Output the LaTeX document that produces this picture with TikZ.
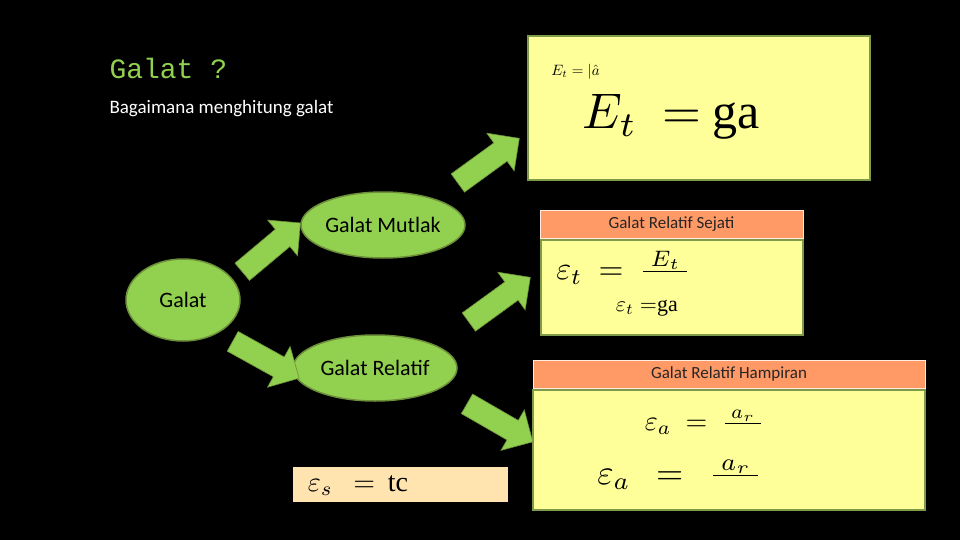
\documentclass[tikz,border=0pt]{standalone}
\usepackage{fontspec}
\setmainfont{Carlito}
\newfontfamily\monof{Liberation Mono}
\newfontfamily\serf{Liberation Serif}
\usetikzlibrary{shapes.arrows,shapes.geometric}
\definecolor{gfill}{HTML}{92D050}
\definecolor{gline}{HTML}{6E8F3A}
\definecolor{ybox}{HTML}{FFFF99}
\definecolor{ybord}{HTML}{7F9A48}
\definecolor{hdr}{HTML}{FF9966}
\definecolor{tfill}{HTML}{FFE4B0}
\begin{document}
\begin{tikzpicture}[x=1pt,y=-1pt,
  ell/.style={ellipse,fill=gfill,draw=gline,line width=1.5pt,font=\fontsize{22}{24}\selectfont,inner sep=0pt},
  garrow/.style={single arrow,fill=gfill,draw=gline,line width=0.6pt,minimum width=46pt,single arrow head extend=12pt,single arrow head indent=0pt,minimum height=76pt,inner xsep=0pt,inner ysep=11pt},
  ybx/.style={fill=ybox,draw=ybord,line width=1.5pt},
  hd/.style={fill=hdr,draw=white!80!hdr,line width=0.8pt,font=\fontsize{17}{19}\selectfont,text=black!85}]
\useasboundingbox[fill=black] (0,0) rectangle (960,540);
\node[anchor=west,text=gfill,font=\monof\fontsize{28}{30}\selectfont] (title) at (106,68) {Galat ?};
\node[anchor=west,text=white,font=\fontsize{19}{21}\selectfont] (sub) at (106,109) {Bagaimana menghitung galat};
\node[ell,minimum width=114pt,minimum height=82pt] (g) at (183,300) {Galat};
\node[ell,minimum width=164pt,minimum height=66pt] (gm) at (383,225) {Galat Mutlak};
\node[ell,minimum width=164pt,minimum height=66pt] (gr) at (375,368) {Galat Relatif};
\node[garrow,rotate=40] (a1) at (267,251) {};
\node[garrow,rotate=-29] (a2) at (261,357) {};
\node[garrow,rotate=36] (a3) at (484,164) {};
\node[garrow,rotate=36] (a4) at (495,303) {};
\node[garrow,rotate=-30] (a5) at (495,420) {};
% top box
\draw[ybx] (528,36) rectangle (870,180);
\begin{scope}
\clip (528,36) rectangle (870,180);
\node[anchor=west,scale=1.5] (e1) at (546,72) {$E_t=|\hat a$};
\node[anchor=west,scale=5] (e2) at (565,117) {$E_t\ =\ $\serf ga};
\node[anchor=west,scale=5] (e3) at (585,205) {$\hat{\ }\qquad\quad$\serf i1};
\end{scope}
% sejati
\node[hd,minimum width=263pt,minimum height=28pt,inner sep=0pt] (h1) at (671.5,224) {Galat Relatif Sejati};
\draw[ybx] (541,240) rectangle (803,335);
\begin{scope}
\clip (541,240) rectangle (803,335);
\node[anchor=west,scale=3.2] (s1) at (545,271) {$\varepsilon_t\ =\ \frac{E_t}{\hphantom{E_tx}}$};
\node[anchor=west,scale=2.2] (s2) at (608,308) {$\varepsilon_t=$\serf ga};
\end{scope}
% hampiran
\node[hd,minimum width=392pt,minimum height=28pt,inner sep=0pt] (h2) at (729,374) {Galat Relatif Hampiran};
\draw[ybx] (533,390) rectangle (925,510);
\begin{scope}
\clip (533,390) rectangle (925,510);
\node[anchor=west,scale=2.8] (m1) at (635,425) {$\varepsilon_a\ =\ \frac{a_r}{\hphantom{a_rx}}$};
\node[anchor=west,scale=3.5] (m2) at (585,478) {$\varepsilon_a\ \ =\ \ \frac{a_r}{\hphantom{a_rx}}$};
\end{scope}
% bottom strip
\fill[tfill] (293,467) rectangle (508,502);
\begin{scope}
\clip (293,467) rectangle (508,502);
\node[anchor=west,scale=2.8] (b1) at (298,486) {$\varepsilon_s\ \ =\ \ $\serf tc};
\end{scope}
\end{tikzpicture}
\end{document}
